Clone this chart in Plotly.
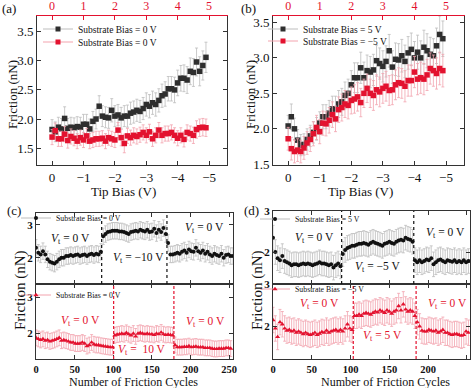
import plotly.graph_objects as go

W, H = 474, 388
FONT = "Liberation Serif"
BLACK = "#2e2e2e"
RED = "#e3122f"
GRAY_ERR = "#bdbdbd"
PINK_ERR = "#f3a3ae"

# ---------------- data ----------------
TIP_BIAS = [round(-0.1 * i, 1) for i in range(50)]
TIP_TICKS = [0, -1, -2, -3, -4, -5]
TOP_TICKS = [0, 1, 2, 3, 4, 5]

a_black = [1.82, 1.78, 1.86, 1.83, 2.01, 1.84, 1.86, 1.85, 1.87, 1.86,
           1.91, 1.91, 1.83, 1.96, 2.00, 2.22, 2.05, 2.03, 2.02, 2.15,
           2.05, 2.07, 2.02, 2.05, 2.05, 2.10, 2.12, 2.15, 2.13, 2.18,
           2.25, 2.22, 2.28, 2.25, 2.32, 2.40, 2.43, 2.52, 2.52, 2.50,
           2.62, 2.70, 2.70, 2.67, 2.82, 2.80, 2.98, 2.82, 2.92, 3.06]
a_black_err = [0.17, 0.17, 0.17, 0.18, 0.20, 0.17, 0.17, 0.17, 0.17, 0.17,
               0.17, 0.17, 0.17, 0.17, 0.17, 0.18, 0.18, 0.18, 0.18, 0.20,
               0.18, 0.18, 0.18, 0.18, 0.19, 0.19, 0.19, 0.19, 0.19, 0.19,
               0.20, 0.20, 0.20, 0.20, 0.20, 0.20, 0.21, 0.21, 0.21, 0.22,
               0.22, 0.22, 0.23, 0.23, 0.23, 0.24, 0.24, 0.25, 0.25, 0.26]
a_red = [1.69, 1.80, 1.66, 1.66, 1.74, 1.63, 1.70, 1.67, 1.62, 1.68,
         1.64, 1.71, 1.62, 1.64, 1.66, 1.66, 1.67, 1.62, 1.68, 1.66,
         1.64, 1.81, 1.68, 1.58, 1.71, 1.68, 1.72, 1.70, 1.73, 1.77,
         1.72, 1.78, 1.66, 1.72, 1.81, 1.72, 1.75, 1.75, 1.77, 1.72,
         1.67, 1.72, 1.65, 1.77, 1.75, 1.72, 1.82, 1.85, 1.86, 1.85]
a_red_err = [0.13, 0.13, 0.13, 0.13, 0.13, 0.13, 0.13, 0.13, 0.13, 0.13,
             0.13, 0.13, 0.13, 0.13, 0.13, 0.13, 0.13, 0.13, 0.13, 0.13,
             0.13, 0.13, 0.14, 0.16, 0.13, 0.13, 0.13, 0.13, 0.13, 0.13,
             0.13, 0.13, 0.13, 0.13, 0.13, 0.13, 0.13, 0.13, 0.13, 0.13,
             0.13, 0.13, 0.13, 0.13, 0.13, 0.14, 0.15, 0.15, 0.15, 0.15]

b_black = [2.04, 2.17, 2.00, 1.84, 1.77, 1.78, 1.85, 1.90, 1.95, 2.00,
           2.08, 2.17, 2.17, 2.22, 2.28, 2.28, 2.35, 2.38, 2.47, 2.50,
           2.62, 2.72, 2.72, 2.86, 2.72, 2.82, 2.80, 2.83, 2.96, 2.92,
           2.88, 2.95, 3.10, 2.87, 2.98, 2.97, 3.03, 2.95, 3.07, 3.12,
           3.00, 3.08, 3.00, 3.15, 3.10, 3.05, 3.03, 3.17, 3.33, 3.27]
b_black_err = [0.15, 0.18, 0.15, 0.15, 0.15, 0.15, 0.15, 0.15, 0.15, 0.16,
               0.16, 0.17, 0.17, 0.18, 0.18, 0.18, 0.19, 0.19, 0.19, 0.20,
               0.20, 0.21, 0.21, 0.22, 0.22, 0.22, 0.22, 0.22, 0.22, 0.22,
               0.22, 0.22, 0.23, 0.23, 0.23, 0.23, 0.23, 0.23, 0.23, 0.23,
               0.23, 0.24, 0.24, 0.24, 0.24, 0.24, 0.24, 0.25, 0.26, 0.25]
b_red = [1.86, 1.72, 1.68, 1.70, 1.68, 1.73, 1.80, 1.85, 1.93, 2.02,
         1.96, 2.08, 2.07, 2.12, 2.20, 2.14, 2.27, 2.30, 2.35, 2.33,
         2.40, 2.42, 2.45, 2.37, 2.50, 2.57, 2.50, 2.47, 2.55, 2.52,
         2.57, 2.60, 2.54, 2.55, 2.62, 2.65, 2.64, 2.60, 2.68, 2.68,
         2.80, 2.70, 2.72, 2.70, 2.76, 2.85, 2.82, 2.78, 2.85, 2.82]
b_red_err = [0.16, 0.16, 0.16, 0.16, 0.16, 0.16, 0.16, 0.17, 0.17, 0.17,
             0.17, 0.17, 0.17, 0.18, 0.18, 0.18, 0.18, 0.19, 0.19, 0.19,
             0.19, 0.20, 0.20, 0.20, 0.20, 0.20, 0.20, 0.21, 0.21, 0.21,
             0.21, 0.21, 0.21, 0.21, 0.21, 0.21, 0.21, 0.22, 0.22, 0.22,
             0.22, 0.22, 0.22, 0.22, 0.22, 0.22, 0.22, 0.22, 0.23, 0.23]

c_top = [2.30, 2.15, 2.10, 2.20, 2.10, 1.95, 1.88, 1.85, 1.82, 1.88,
         1.95, 2.00, 2.00, 2.05, 2.05, 2.08, 2.05, 2.08, 2.10, 2.05,
         2.08, 2.10, 2.05, 2.10, 2.12, 2.08, 2.12, 2.10, 2.18,
         2.65, 2.72, 2.78, 2.80, 2.82, 2.82, 2.82, 2.80, 2.80, 2.78,
         2.75, 2.72, 2.78, 2.80, 2.82, 2.80, 2.85, 2.82, 2.80, 2.85,
         2.78, 2.80, 2.88, 2.75, 2.85, 2.78, 2.90, 2.72,
         2.45, 2.10, 2.10, 2.12, 2.15, 2.12, 2.18, 2.22, 2.15, 2.25,
         2.20, 2.18, 2.30, 2.20, 2.15, 2.22, 2.12, 2.18, 2.10, 2.05,
         2.12, 2.08, 2.05, 2.12, 2.00, 2.08, 2.10, 2.05, 2.05]
c_bot = [1.88, 1.85, 1.82, 1.85, 1.80, 1.82, 1.78, 1.80, 1.82, 1.85,
         1.88, 1.80, 1.82, 1.80, 1.78, 1.75, 1.75, 1.72, 1.72, 1.72,
         1.75, 1.72, 1.65, 1.68, 1.75, 1.70, 1.68, 1.68, 1.66, 1.65,
         1.64, 1.63, 1.62, 1.62,
         1.95, 1.97, 1.98, 2.00, 1.98, 2.02, 1.98, 1.95, 2.00, 1.92,
         2.00, 2.02, 2.00, 1.98, 2.00, 1.98, 1.98, 1.96, 2.00, 1.98,
         2.03, 1.98, 1.96, 1.97, 1.96, 1.95,
         1.68, 1.62, 1.62, 1.62, 1.63, 1.63, 1.65, 1.62, 1.63, 1.64,
         1.62, 1.62, 1.62, 1.60, 1.60, 1.60, 1.58, 1.57, 1.57, 1.58,
         1.58, 1.58, 1.60, 1.60, 1.58]
d_top = [2.35, 2.00, 1.85, 1.80, 1.90, 1.78, 1.75, 1.72, 1.68, 1.70,
         1.70, 1.68, 1.70, 1.72, 1.70, 1.72, 1.70, 1.68, 1.70, 1.72,
         1.75, 1.72, 1.72, 1.70, 1.68, 1.70, 1.62, 1.68, 1.72, 1.65,
         1.95, 2.05, 2.10, 2.12, 2.15, 2.15, 2.18, 2.20, 2.20, 2.22,
         2.20, 2.18, 2.22, 2.25, 2.22, 2.20, 2.18, 2.15, 2.20, 2.22,
         2.25, 2.22, 2.20, 2.25, 2.28, 2.30, 2.28, 2.35, 2.32, 2.30, 2.25,
         1.80, 1.75, 1.80, 1.75, 1.78, 1.82, 1.80, 1.85, 1.70, 1.75,
         1.80, 1.82, 1.78, 1.75, 1.80, 1.78, 1.76, 1.80, 1.75, 1.78,
         1.75, 1.80, 1.75, 1.78]
d_bot = [2.15, 1.95, 1.75, 2.10, 2.05, 1.95, 1.90, 1.92, 1.88, 1.90,
         1.85, 1.88, 1.85, 1.82, 1.85, 1.82, 1.80, 1.82, 1.85, 1.80,
         1.83, 1.87, 1.85, 1.90, 1.85, 1.88, 1.90, 1.92, 1.88, 1.92,
         1.88, 1.95, 2.05, 1.95, 1.92,
         2.25, 2.25, 2.28, 2.25, 2.30, 2.32, 2.30, 2.28, 2.32, 2.35,
         2.33, 2.38, 2.35, 2.32, 2.38, 2.35, 2.30, 2.35, 2.38, 2.48,
         2.38, 2.52, 2.40, 2.35, 2.38, 2.35, 2.25,
         2.10, 2.00, 1.90, 1.88, 1.88, 1.92, 1.90, 1.88, 1.90, 1.85,
         1.88, 1.92, 1.85, 1.85, 1.82, 1.80, 1.82, 1.82, 1.80, 1.78,
         1.80, 1.88, 1.85]
CYCLE_STEP = 3
ERR_C_TOP, ERR_C_BOT, ERR_D_TOP, ERR_D_BOT = 0.25, 0.22, 0.30, 0.30
CYCLE_TICKS = [0, 50, 100, 150, 200, 250]
c_top_switch = [85, 169.5]
c_bot_switch = [100.5, 178.5]
d_top_switch = [88.5, 181.5]
d_bot_switch = [103.5, 184.5]


def fx(p):
    return p / W


def fy(p):
    return 1 - p / H


fig = go.Figure()


def add_series(x, y, err, xa, ya, color, ecolor, symbol, size):
    e = dict(type="data", color=ecolor, thickness=0.8, width=1.5)
    if isinstance(err, list):
        e["array"] = err
    else:
        e["type"] = "constant"
        e["value"] = err
    fig.add_trace(go.Scatter(
        x=x, y=y, xaxis=xa, yaxis=ya, mode="markers",
        marker=dict(color=color, symbol=symbol, size=size, line=dict(width=0)),
        error_y=e, showlegend=False, hoverinfo="skip"))


def add_legend(name, lid, color, ecolor, symbol, size):
    fig.add_trace(go.Scatter(
        x=[None], y=[None], mode="lines+markers", name=name, legend=lid,
        line=dict(color=ecolor, width=1),
        marker=dict(color=color, symbol=symbol, size=size), showlegend=True))


def cyc(vals):
    return [CYCLE_STEP * i for i in range(len(vals))]


add_series(TIP_BIAS, a_black, a_black_err, "x", "y", BLACK, GRAY_ERR, "square", 5.5)
add_series(TIP_BIAS, a_red, a_red_err, "x", "y", RED, PINK_ERR, "square", 5.5)
add_series(TIP_BIAS, b_black, b_black_err, "x2", "y2", BLACK, GRAY_ERR, "square", 5.5)
add_series(TIP_BIAS, b_red, b_red_err, "x2", "y2", RED, PINK_ERR, "square", 5.5)
add_series(cyc(c_top), c_top, ERR_C_TOP, "x3", "y3", "#111", GRAY_ERR, "circle", 4)
add_series(cyc(c_bot), c_bot, ERR_C_BOT, "x4", "y4", RED, PINK_ERR, "triangle-up", 4.5)
add_series(cyc(d_top), d_top, ERR_D_TOP, "x5", "y5", "#111", GRAY_ERR, "circle", 4)
add_series(cyc(d_bot), d_bot, ERR_D_BOT, "x6", "y6", RED, PINK_ERR, "triangle-up", 4.5)

# dummy traces for the red top axes
fig.add_trace(go.Scatter(x=[None], y=[None], xaxis="x7", yaxis="y", showlegend=False))
fig.add_trace(go.Scatter(x=[None], y=[None], xaxis="x8", yaxis="y2", showlegend=False))

add_legend("Substrate Bias = 0 V", "legend", BLACK, GRAY_ERR, "square", 5)
add_legend("Substrate Bias = 0 V", "legend2", RED, PINK_ERR, "square", 5)
add_legend("Substrate Bias = 5 V", "legend3", BLACK, GRAY_ERR, "square", 5)
add_legend("Substrate Bias = \u22125 V", "legend4", RED, PINK_ERR, "square", 5)
add_legend("Substrate Bias = 0 V", "legend5", "#111", GRAY_ERR, "circle", 4)
add_legend("Substrate Bias = 0 V", "legend6", RED, PINK_ERR, "triangle-up", 4.5)
add_legend("Substrate Bias = 5 V", "legend7", "#111", GRAY_ERR, "circle", 4)
add_legend("Substrate Bias = \u22125 V", "legend8", RED, PINK_ERR, "triangle-up", 4.5)


def ax(**kw):
    base = dict(showgrid=False, zeroline=False, showline=True, linecolor="#333",
                linewidth=1, ticks="inside", ticklen=4, tickcolor="#333",
                automargin=False,
                tickfont=dict(family=FONT, size=13, color="#111"))
    base.update(kw)
    return base


small = dict(family=FONT, size=11, color="#111", weight="bold")
small_x = dict(family=FONT, size=10.5, color="#111", weight="bold")
red_top = dict(family=FONT, size=12, color=RED)
TOP_AB = 16
BOT_CD = 359

layout_axes = dict(
    xaxis=ax(domain=[fx(37), fx(227)], range=[0.48, -5.57], tickvals=TIP_TICKS, anchor="y"),
    yaxis=ax(domain=[fy(165), fy(TOP_AB)], range=[1.21, 3.77], tickvals=[1.5, 2, 2.5, 3, 3.5],
             tickformat=".1f", mirror="ticks", anchor="x"),
    xaxis7=ax(overlaying="x", side="top", anchor="y", range=[-0.48, 5.57], tickvals=TOP_TICKS,
              linecolor=RED, tickcolor=RED, tickfont=red_top),
    xaxis2=ax(domain=[fx(273), fx(464)], range=[0.48, -5.57], tickvals=TIP_TICKS, anchor="y2"),
    yaxis2=ax(domain=[fy(165), fy(TOP_AB)], range=[1.49, 3.59], tickvals=[1.5, 2, 2.5, 3, 3.5],
              tickformat=".1f", mirror="ticks", anchor="x2"),
    xaxis8=ax(overlaying="x2", side="top", anchor="y2", range=[-0.48, 5.57], tickvals=TOP_TICKS,
              linecolor=RED, tickcolor=RED, tickfont=red_top),
    xaxis3=ax(domain=[fx(36), fx(233)], range=[0, 255], tickvals=CYCLE_TICKS,
              showticklabels=False, mirror="ticks", anchor="y3"),
    yaxis3=ax(domain=[fy(284), fy(213)], range=[1.2, 3.36], tickvals=[2, 3], mirror="ticks",
              anchor="x3", tickfont=small),
    xaxis4=ax(domain=[fx(36), fx(233)], range=[0, 255], tickvals=CYCLE_TICKS, mirror="ticks",
              anchor="y4", tickfont=small_x),
    yaxis4=ax(domain=[fy(BOT_CD), fy(284)], range=[1.29, 3.38], tickvals=[2, 3], mirror="ticks",
              anchor="x4", tickfont=small),
    xaxis5=ax(domain=[fx(273), fx(470)], range=[0, 254], tickvals=CYCLE_TICKS,
              showticklabels=False, mirror="ticks", anchor="y5"),
    yaxis5=ax(domain=[fy(284), fy(211)], range=[1.22, 3.0], tickvals=[2, 3], mirror="ticks",
              anchor="x5", tickfont=small),
    xaxis6=ax(domain=[fx(273), fx(470)], range=[0, 254], tickvals=CYCLE_TICKS, mirror="ticks",
              anchor="y6", tickfont=small_x),
    yaxis6=ax(domain=[fy(BOT_CD), fy(284)], range=[1.23, 3.0], tickvals=[2, 3], mirror="ticks",
              anchor="x6", tickfont=small),
)


def leg(text_x, row_y, size):
    return dict(x=fx(text_x - 42), y=fy(row_y), xanchor="left", yanchor="middle",
                bgcolor="rgba(0,0,0,0)", borderwidth=0, itemwidth=30,
                font=dict(family=FONT, size=size, color="#111"))


shapes = []
for xs, xr, yr, col, dash in [(c_top_switch, "x3", "y3", "#111", "dot"),
                              (c_bot_switch, "x4", "y4", RED, "3px,2px"),
                              (d_top_switch, "x5", "y5", "#111", "dot"),
                              (d_bot_switch, "x6", "y6", RED, "3px,2px")]:
    for xv in xs:
        shapes.append(dict(type="line", xref=xr, yref=yr + " domain", x0=xv, x1=xv, y0=0, y1=1,
                           line=dict(color=col, width=1.2, dash=dash)))

annotations = []


def ann(text, x, y, size=13, color="#111", angle=0):
    annotations.append(dict(text=text, x=fx(x), y=fy(y), xref="paper", yref="paper",
                            xanchor="center", yanchor="middle",
                            showarrow=False, textangle=angle,
                            font=dict(family=FONT, size=size, color=color)))


VT = "<i>V</i><sub>t</sub> = "
VS = 11.5
ann("(a)", 9, 8)
ann("(b)", 248, 8)
ann("(c)", 14, 210)
ann("(d)", 252, 210)
ann("Friction (nN)", 12, 95, 13, angle=-90)
ann("Tip Bias (V)", 123, 191, 13)
ann("Friction (nN)", 250, 95, 13, angle=-90)
ann("Tip Bias (V)", 360, 191, 13)
ann("Friction (nN)", 20, 290, 15, angle=-90)
ann("Number of Friction Cycles", 133, 381.5, 12)
ann("Friction (nN)", 257, 290, 15, angle=-90)
ann("Number of Friction Cycles", 385, 381.5, 12)
ann(VT + "0 V", 70, 239, VS)
ann(VT + "\u221210 V", 138, 258, VS)
ann(VT + "0 V", 204, 228, VS)
ann(VT + "0 V", 80, 321, VS, RED)
ann(VT + " 10 V", 142, 350, VS, RED)
ann(VT + "0 V", 205, 322, VS, RED)
ann(VT + "0 V", 314, 238, VS)
ann(VT + "\u22125 V", 377, 267, VS)
ann(VT + "0 V", 445, 233, VS)
ann(VT + "0 V", 319, 304, VS, RED)
ann(VT + "5 V", 382, 336, VS, RED)
ann(VT + "0 V", 447, 304, VS, RED)

fig.update_layout(
    width=W, height=H, margin=dict(l=0, r=0, t=0, b=0, autoexpand=False),
    paper_bgcolor="white", plot_bgcolor="white",
    font=dict(family=FONT, color="#111"),
    legend=leg(80, 29, 9.5), legend2=leg(80, 42, 9.5),
    legend3=leg(305, 29, 9.5), legend4=leg(305, 41, 9.5),
    legend5=leg(58, 218, 7.8), legend6=leg(58, 295, 7.8),
    legend7=leg(297, 219, 7.8), legend8=leg(297, 289, 7.8),
    shapes=shapes, annotations=annotations,
    **layout_axes,
)

fig.write_html("out.html", config={"displayModeBar": False})
with open("out.html", encoding="utf-8") as f:
    html = f.read()
html = html.replace("<head>", "<head><style>html,body{margin:0;padding:0;}</style>", 1)
with open("out.html", "w", encoding="utf-8") as f:
    f.write(html)
